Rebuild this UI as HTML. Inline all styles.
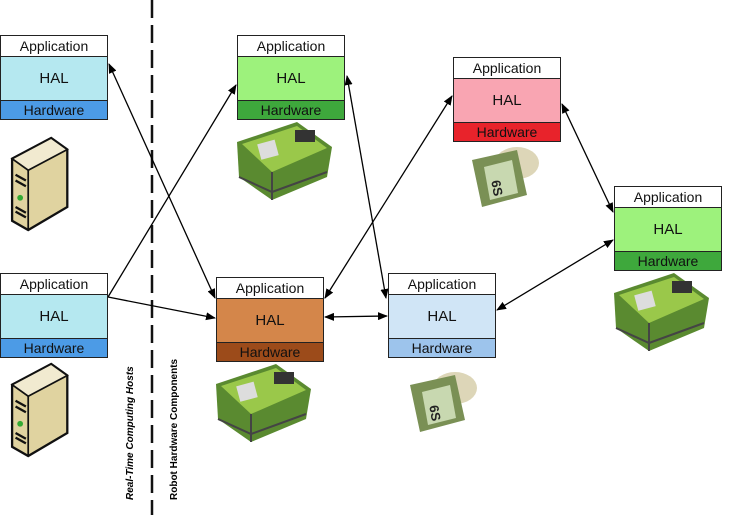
<!DOCTYPE html>
<html><head><style>
body{margin:0;background:#fff;width:734px;height:515px;overflow:hidden;position:relative;font-family:"Liberation Sans",sans-serif}
.b{position:absolute;width:108px;border:1.5px solid #222;box-sizing:border-box}
.b div{text-align:center;color:#111;box-sizing:border-box}
.a{height:21px;line-height:20px;font-size:14px;background:#fff;border-bottom:1.5px solid #222}
.h{height:43px;line-height:43px;font-size:15px}
.w{height:19px;line-height:18px;font-size:14px;border-top:1.5px solid #222}
svg{position:absolute;left:0;top:0}
</style></head><body>
<svg width="734" height="515">
<defs><marker id="m" markerWidth="10" markerHeight="8" refX="9" refY="4" orient="auto-start-reverse" markerUnits="userSpaceOnUse"><path d="M0,0L10,4L0,8z" fill="#000"/></marker>
<g id="pc"><path d="M14,18 L48,0 L62,10 L62,60 L28,80 L14,72z" fill="#e0d3a0" stroke="#111" stroke-width="2"/><path d="M14,18 L48,0 L62,10 L28,28z" fill="#f1ead0" stroke="#111" stroke-width="1.5"/><path d="M28,28 L28,80" stroke="#111" stroke-width="1.5"/><path d="M17,32 L26,37 M17,37 L26,42 M17,60 L26,65 M17,64 L26,69" stroke="#111" stroke-width="2"/><circle cx="21" cy="52" r="2.5" fill="#3a3"/></g>
<g id="bd"><path d="M0,20 L60,0 L95,25 L90,55 L35,78 L2,55z" fill="#5a8a30"/><path d="M5,22 L60,4 L90,26 L35,50z" fill="#9ac84a"/><rect x="22" y="20" width="18" height="16" fill="#ddd" transform="rotate(-15 30 28)"/><rect x="58" y="8" width="20" height="12" fill="#333"/><path d="M35,50 L35,78 M2,55 L35,70 L90,50" stroke="#444" stroke-width="2" fill="none"/></g>
<g id="sm"><ellipse cx="45" cy="18" rx="22" ry="16" fill="#ddd6b8"/><path d="M0,15 L45,5 L55,50 L10,62z" fill="#7a9055"/><path d="M12,22 L40,15 L46,48 L18,55z" fill="#c8d8b0"/><text x="20" y="45" font-size="13" font-weight="bold" fill="#222" transform="rotate(80 25 40)">6S</text></g>
</defs>
<line x1="152" y1="0" x2="152" y2="515" stroke="#111" stroke-width="2.5" stroke-dasharray="18,7"/>
<text transform="translate(133,500) rotate(-90)" font-size="10" font-style="italic" font-weight="bold" font-family="Liberation Sans">Real-Time Computing Hosts</text>
<text transform="translate(177,500) rotate(-90)" font-size="10" font-weight="bold" font-family="Liberation Sans">Robot Hardware Components</text>
<g stroke="#000" stroke-width="1.3" fill="none" marker-end="url(#m)" marker-start="url(#m)">
<line x1="109" y1="64" x2="215" y2="298"/>
<line x1="347" y1="76" x2="386" y2="298"/>
<line x1="452" y1="96" x2="325" y2="298"/>
<line x1="325" y1="317" x2="387" y2="316"/>
<line x1="562" y1="104" x2="613" y2="212"/>
<line x1="613" y1="240" x2="497" y2="310"/>
</g>
<g stroke="#000" stroke-width="1.3" fill="none" marker-end="url(#m)">
<polyline points="108,297 236,85" />
<line x1="108" y1="297" x2="215" y2="318"/>
</g>
<use href="#pc" transform="translate(-4,138) scale(1.15)"/><use href="#pc" transform="translate(-4,364) scale(1.15)"/>
<use href="#bd" x="237" y="122"/><use href="#bd" x="216" y="364"/><use href="#bd" x="614" y="273"/>
<use href="#sm" x="472" y="145"/><use href="#sm" x="410" y="370"/>
</svg>
<div class="b" style="left:0;top:35px"><div class="a">Application</div><div class="h" style="background:#b5e8f0">HAL</div><div class="w" style="background:#4c9be6">Hardware</div></div>
<div class="b" style="left:237px;top:35px"><div class="a">Application</div><div class="h" style="background:#9df27c">HAL</div><div class="w" style="background:#3ea83c">Hardware</div></div>
<div class="b" style="left:453px;top:57px"><div class="a">Application</div><div class="h" style="background:#f9a5b2">HAL</div><div class="w" style="background:#e8232b">Hardware</div></div>
<div class="b" style="left:614px;top:186px"><div class="a">Application</div><div class="h" style="background:#9df27c">HAL</div><div class="w" style="background:#3ea83c">Hardware</div></div>
<div class="b" style="left:0;top:273px"><div class="a">Application</div><div class="h" style="background:#b5e8f0">HAL</div><div class="w" style="background:#4c9be6">Hardware</div></div>
<div class="b" style="left:216px;top:277px"><div class="a">Application</div><div class="h" style="background:#d4864a">HAL</div><div class="w" style="background:#9c4b1a">Hardware</div></div>
<div class="b" style="left:388px;top:273px"><div class="a">Application</div><div class="h" style="background:#d0e5f6">HAL</div><div class="w" style="background:#9dc4ec">Hardware</div></div>
</body></html>
